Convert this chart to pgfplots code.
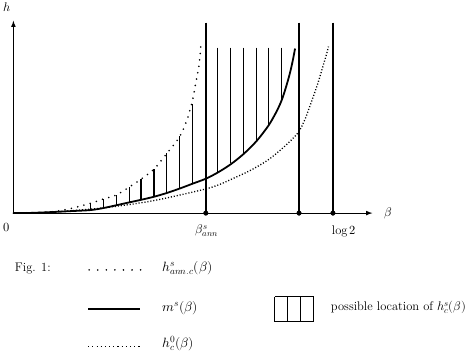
\documentclass[border=0pt]{standalone}
\usepackage{fontspec}
\usepackage{unicode-math}
\setmathfont{Latin Modern Math}
\usepackage{pgfplots}
\pgfplotsset{compat=1.18}
\newcommand\f{\fontsize{12.5}{15}\selectfont}
\begin{document}
\begin{tikzpicture}[font=\f]
\begin{axis}[
  scale only axis, width=474pt, height=352pt,
  xmin=0, xmax=474, ymin=0, ymax=352, y dir=reverse,
  hide axis, clip=false, unbounded coords=jump,
]
\path (rel axis cs:0,0) rectangle (rel axis cs:1,1);
% axes
\draw[line width=1.1pt,-latex] (axis cs:12,213) -- (axis cs:372,213);
\draw[line width=1.1pt,-latex] (axis cs:12,213) -- (axis cs:12,20);
% thick vertical lines
\addplot[black, line width=2.1pt] coordinates {(205,22) (205,213) (298,nan) (298.5,22) (298.5,213) (332,nan) (332.5,22) (332.5,213)};
\addplot[only marks, mark=*, mark size=2.3pt, black] coordinates {(205,213) (298.5,213) (332.5,213)};
% hatch lines
\addplot[black, line width=1.1pt] coordinates {
(89,203) (89,210) (102,nan)
(102,199) (102,208) (115,nan)
(115,195) (115,205) (128,nan)
(128,187) (128,202) (140,nan)
(140,179) (140,200) (153,nan)
(153,169) (153,197) (166,nan)
(166,153) (166,193) (179,nan)
(179,136) (179,188) (192,nan)
(192,104) (192,183) (217,nan)
(217,47) (217,172) (230,nan)
(230,47) (230,163) (243,nan)
(243,47) (243,153) (256,nan)
(256,47) (256,140) (268,nan)
(268,47) (268,125) (281,nan)
(281,47) (281,100)
};
% m^s solid
\addplot[black, line width=1.8pt, smooth] coordinates {
(12,213) (30,212.8) (50,212) (70,211) (89,210) (102,208) (115,205.2) (128,202.3) (140,199.7) (153,196.6) (166,192.8) (179,188.3) (192,183.4) (205,178.5) (217,172.3) (230,164) (243,153.6) (256,140.6) (268,125) (276,111) (281,100) (285,88) (289,74) (292,61) (294.5,48)};
% h^0_c dense dotted
\addplot[black, line width=1.3pt, dash pattern=on 1.1pt off 1.9pt, smooth] coordinates {
(12,213) (50,212) (100,208) (150,201) (200,190) (217,185) (233,178) (250,170) (267,160) (283,147) (297,133) (304,120) (310,104) (317,84) (323,64) (326,54) (328,46)};
% h^s_ann.c sparse dotted
\addplot[black, line width=1.8pt, dash pattern=on 0pt off 6.5pt, line cap=round, smooth] coordinates {
(12,213) (47,212) (67,209) (90,203) (102,199) (115,195) (128,187) (140,179) (153,169) (166,153) (179,136) (187,117) (192,98) (195,82) (198,66) (200,46)};
% axis labels
\node at (axis cs:5,227) {$0$};
\node at (axis cs:206,231) {$\beta^s_{ann}$};
\node[anchor=west] at (axis cs:328,231) {$\log 2$};
\node at (axis cs:388,213) {$\beta$};
\node at (axis cs:6,7) {$h$};
% legend
\node[anchor=west] at (axis cs:10,269) {Fig. 1:};
\addplot[black, line width=1.8pt, dash pattern=on 0pt off 8.6pt, line cap=round] coordinates {(88,270) (141,270)};
\node[anchor=west] at (axis cs:158,268) {\fontsize{13.5}{15}\selectfont$h^s_{ann.c}(\beta)$};
\addplot[black, line width=1.8pt] coordinates {(87,309) (139,309)};
\node[anchor=west] at (axis cs:158,308) {\fontsize{13.5}{15}\selectfont$m^s(\beta)$};
\addplot[black, line width=1.3pt, dash pattern=on 1.1pt off 3.1pt] coordinates {(87,347) (141,347)};
\node[anchor=west] at (axis cs:158,344) {\fontsize{13.5}{15}\selectfont$h^0_c(\beta)$};
\addplot[black, line width=1.1pt] coordinates {(274,297) (313,297) (313,322) (274,322) (274,297)};
\addplot[black, line width=1.1pt] coordinates {(287,297) (287,322) (300,nan) (300,297) (300,322)};
\node[anchor=west] at (axis cs:327,308) {possible location of $h^s_c(\beta)$};
\end{axis}
\end{tikzpicture}
\end{document}
